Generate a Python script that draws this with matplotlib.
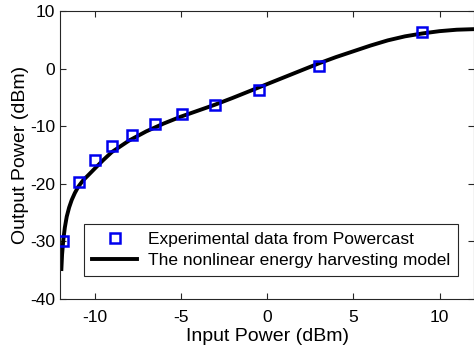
import matplotlib
matplotlib.use("Agg")
import matplotlib.pyplot as plt

plt.rcParams["font.family"] = ["Liberation Sans", "DejaVu Sans"]
plt.rcParams["axes.unicode_minus"] = False

# measured points (Powercast)
exp_in = [-11.8, -10.9, -10.0, -9.0, -7.8, -6.5, -4.9, -3.0, -0.45, 3.0, 9.0]
exp_out = [-29.9, -19.7, -15.9, -13.4, -11.5, -9.6, -7.9, -6.3, -3.8, 0.5, 6.3]

# model curve
model_in = [-11.92, -11.88, -11.81, -11.72, -11.61, -11.47, -11.32, -11.14, -10.94, -10.66,
            -10.36, -10.0, -9.5, -9.0, -8.0, -7.0, -6.0, -5.0, -4.0, -3.0,
            -2.0, -1.0, 0.0, 1.0, 2.0, 3.0, 4.0, 5.0, 6.0, 7.0,
            8.0, 9.0, 10.0, 11.0, 12.0]
model_out = [-34.8, -32.3, -29.8, -27.6, -25.7, -24.1, -22.8, -21.6, -20.5, -19.4,
             -18.5, -17.4, -15.9, -14.5, -12.5, -10.9, -9.55, -8.35, -7.3, -6.25,
             -5.1, -3.9, -2.7, -1.5, -0.3, 0.9, 2.0, 3.0, 4.0, 4.9,
             5.6, 6.1, 6.5, 6.75, 6.85]

fig = plt.figure(figsize=(4.74, 3.54), dpi=100)
ax = fig.add_axes([60 / 474, 1 - 299 / 354, 414 / 474, 288 / 354])

ax.plot(exp_in, exp_out, "s", color="#0000ee", markerfacecolor="none",
        markersize=7.5, markeredgewidth=1.8, label="Experimental data from Powercast", zorder=3)
ax.plot(model_in, model_out, "-", color="black", linewidth=2.8,
        label="The nonlinear energy harvesting model", zorder=2)

ax.set_xlim(-12, 12)
ax.set_ylim(-40, 10)
ax.set_xticks([-10, -5, 0, 5, 10])
ax.set_yticks([-40, -30, -20, -10, 0, 10])
ax.tick_params(direction="in", top=True, right=True, labelsize=12.5, length=4, color="#262626")
ax.tick_params(axis="x", pad=8)
for s in ax.spines.values():
    s.set_color("#262626")
ax.set_xlabel("Input Power (dBm)", fontsize=14, labelpad=2)
ax.set_ylabel("Output Power (dBm)", fontsize=14, labelpad=1)

leg = ax.legend(loc="lower right", bbox_to_anchor=(0.961, 0.080), borderaxespad=0,
                fontsize=12.5, fancybox=False, edgecolor="#262626", framealpha=1,
                handlelength=2.6, borderpad=0.45, labelspacing=0.35, handletextpad=0.6)
leg.get_frame().set_linewidth(0.8)

fig.savefig("out.png", dpi=100)
plt.close(fig)
